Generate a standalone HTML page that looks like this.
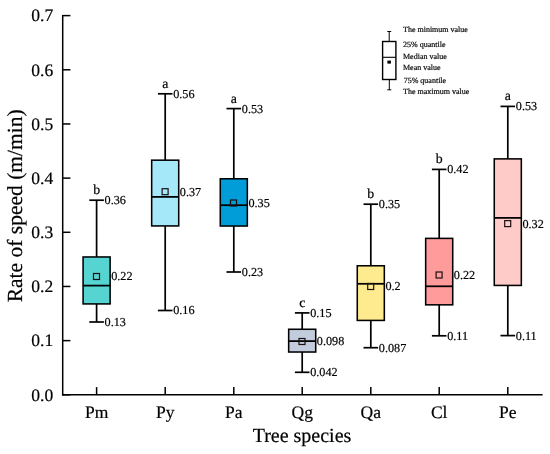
<!DOCTYPE html>
<html><head><meta charset="utf-8"><style>
html,body{margin:0;padding:0;background:#fff;}
svg{display:block;font-family:"Liberation Serif", serif;}
text{stroke:#000;stroke-width:0.2px;}
svg{text-rendering:geometricPrecision;will-change:transform;}
</style></head><body>
<svg width="550" height="454" viewBox="0 0 550 454">
<rect width="550" height="454" fill="#fff"/>
<line x1="62.7" y1="15" x2="62.7" y2="395.55" stroke="#000" stroke-width="1.5"/>
<line x1="61.95" y1="394.8" x2="542.6" y2="394.8" stroke="#000" stroke-width="1.5"/>
<line x1="62.7" y1="394.80" x2="70.4" y2="394.80" stroke="#000" stroke-width="1.5"/>
<text transform="translate(53.20,400.60) scale(1,1.0)" font-size="17.5" text-anchor="end">0.0</text>
<line x1="62.7" y1="340.63" x2="70.4" y2="340.63" stroke="#000" stroke-width="1.5"/>
<text transform="translate(53.20,346.43) scale(1,1.0)" font-size="17.5" text-anchor="end">0.1</text>
<line x1="62.7" y1="286.46" x2="70.4" y2="286.46" stroke="#000" stroke-width="1.5"/>
<text transform="translate(53.20,292.26) scale(1,1.0)" font-size="17.5" text-anchor="end">0.2</text>
<line x1="62.7" y1="232.29" x2="70.4" y2="232.29" stroke="#000" stroke-width="1.5"/>
<text transform="translate(53.20,238.09) scale(1,1.0)" font-size="17.5" text-anchor="end">0.3</text>
<line x1="62.7" y1="178.12" x2="70.4" y2="178.12" stroke="#000" stroke-width="1.5"/>
<text transform="translate(53.20,183.92) scale(1,1.0)" font-size="17.5" text-anchor="end">0.4</text>
<line x1="62.7" y1="123.95" x2="70.4" y2="123.95" stroke="#000" stroke-width="1.5"/>
<text transform="translate(53.20,129.75) scale(1,1.0)" font-size="17.5" text-anchor="end">0.5</text>
<line x1="62.7" y1="69.78" x2="70.4" y2="69.78" stroke="#000" stroke-width="1.5"/>
<text transform="translate(53.20,75.58) scale(1,1.0)" font-size="17.5" text-anchor="end">0.6</text>
<line x1="62.7" y1="15.61" x2="70.4" y2="15.61" stroke="#000" stroke-width="1.5"/>
<text transform="translate(53.20,21.41) scale(1,1.0)" font-size="17.5" text-anchor="end">0.7</text>
<line x1="96.6" y1="394.8" x2="96.6" y2="387.1" stroke="#000" stroke-width="1.5"/>
<text transform="translate(96.60,417.50) scale(1,1.0)" font-size="17.5" text-anchor="middle">Pm</text>
<line x1="165.2" y1="394.8" x2="165.2" y2="387.1" stroke="#000" stroke-width="1.5"/>
<text transform="translate(165.20,417.50) scale(1,1.0)" font-size="17.5" text-anchor="middle">Py</text>
<line x1="233.8" y1="394.8" x2="233.8" y2="387.1" stroke="#000" stroke-width="1.5"/>
<text transform="translate(233.80,417.50) scale(1,1.0)" font-size="17.5" text-anchor="middle">Pa</text>
<line x1="302.2" y1="394.8" x2="302.2" y2="387.1" stroke="#000" stroke-width="1.5"/>
<text transform="translate(302.20,417.50) scale(1,1.0)" font-size="17.5" text-anchor="middle">Qg</text>
<line x1="370.8" y1="394.8" x2="370.8" y2="387.1" stroke="#000" stroke-width="1.5"/>
<text transform="translate(370.80,417.50) scale(1,1.0)" font-size="17.5" text-anchor="middle">Qa</text>
<line x1="439.2" y1="394.8" x2="439.2" y2="387.1" stroke="#000" stroke-width="1.5"/>
<text transform="translate(439.20,417.50) scale(1,1.0)" font-size="17.5" text-anchor="middle">Cl</text>
<line x1="507.8" y1="394.8" x2="507.8" y2="387.1" stroke="#000" stroke-width="1.5"/>
<text transform="translate(507.80,417.50) scale(1,1.0)" font-size="17.5" text-anchor="middle">Pe</text>
<text transform="translate(302.00,441.80) scale(1,1.0)" font-size="20" text-anchor="middle">Tree species</text>
<text transform="translate(22,205.8) rotate(-90)" x="-96.5" y="0" font-size="21.5" textLength="193" lengthAdjust="spacing">Rate of speed (m/min)</text>
<line x1="96.6" y1="200.2" x2="96.6" y2="256.97499999999997" stroke="#000" stroke-width="1.7"/>
<line x1="96.6" y1="303.925" x2="96.6" y2="322.0" stroke="#000" stroke-width="1.7"/>
<line x1="89.3" y1="200.2" x2="103.89999999999999" y2="200.2" stroke="#000" stroke-width="1.7"/>
<line x1="89.3" y1="322.0" x2="103.89999999999999" y2="322.0" stroke="#000" stroke-width="1.7"/>
<rect x="83.08" y="256.97" width="27.05" height="46.95" fill="#55D4D2" stroke="#000" stroke-width="1.55"/>
<line x1="83.08" y1="285.6" x2="110.12" y2="285.6" stroke="#000" stroke-width="1.75"/>
<rect x="93.50" y="273.50" width="6.0" height="6.0" fill="none" stroke="#1a1010" stroke-width="1.2"/>
<text transform="translate(104.60,204.10) scale(1,1.0)" font-size="12.2">0.36</text>
<text transform="translate(111.20,280.40) scale(1,1.0)" font-size="12.2">0.22</text>
<text transform="translate(104.60,325.90) scale(1,1.0)" font-size="12.2">0.13</text>
<text transform="translate(96.60,194.10) scale(1,1.0)" font-size="13.8" text-anchor="middle">b</text>
<line x1="165.2" y1="93.8" x2="165.2" y2="160.175" stroke="#000" stroke-width="1.7"/>
<line x1="165.2" y1="225.92499999999998" x2="165.2" y2="310.5" stroke="#000" stroke-width="1.7"/>
<line x1="157.89999999999998" y1="93.8" x2="172.5" y2="93.8" stroke="#000" stroke-width="1.7"/>
<line x1="157.89999999999998" y1="310.5" x2="172.5" y2="310.5" stroke="#000" stroke-width="1.7"/>
<rect x="151.67" y="160.18" width="27.05" height="65.75" fill="#A5E8FA" stroke="#000" stroke-width="1.55"/>
<line x1="151.67" y1="196.9" x2="178.72" y2="196.9" stroke="#000" stroke-width="1.75"/>
<rect x="162.10" y="188.70" width="6.0" height="6.0" fill="none" stroke="#1a1010" stroke-width="1.2"/>
<text transform="translate(173.20,97.70) scale(1,1.0)" font-size="12.2">0.56</text>
<text transform="translate(179.80,195.60) scale(1,1.0)" font-size="12.2">0.37</text>
<text transform="translate(173.20,314.40) scale(1,1.0)" font-size="12.2">0.16</text>
<text transform="translate(165.20,87.70) scale(1,1.0)" font-size="13.8" text-anchor="middle">a</text>
<line x1="233.8" y1="108.6" x2="233.8" y2="178.775" stroke="#000" stroke-width="1.7"/>
<line x1="233.8" y1="226.025" x2="233.8" y2="272.0" stroke="#000" stroke-width="1.7"/>
<line x1="226.5" y1="108.6" x2="241.10000000000002" y2="108.6" stroke="#000" stroke-width="1.7"/>
<line x1="226.5" y1="272.0" x2="241.10000000000002" y2="272.0" stroke="#000" stroke-width="1.7"/>
<rect x="220.28" y="178.78" width="27.05" height="47.25" fill="#009DD8" stroke="#000" stroke-width="1.55"/>
<line x1="220.28" y1="205.2" x2="247.33" y2="205.2" stroke="#000" stroke-width="1.75"/>
<rect x="230.50" y="200.00" width="6.0" height="6.0" fill="none" stroke="#1a1010" stroke-width="1.2"/>
<text transform="translate(241.80,112.50) scale(1,1.0)" font-size="12.2">0.53</text>
<text transform="translate(248.40,206.90) scale(1,1.0)" font-size="12.2">0.35</text>
<text transform="translate(241.80,275.90) scale(1,1.0)" font-size="12.2">0.23</text>
<text transform="translate(233.80,102.50) scale(1,1.0)" font-size="13.8" text-anchor="middle">a</text>
<line x1="302.2" y1="312.9" x2="302.2" y2="329.275" stroke="#000" stroke-width="1.7"/>
<line x1="302.2" y1="352.02500000000003" x2="302.2" y2="372.3" stroke="#000" stroke-width="1.7"/>
<line x1="294.9" y1="312.9" x2="309.5" y2="312.9" stroke="#000" stroke-width="1.7"/>
<line x1="294.9" y1="372.3" x2="309.5" y2="372.3" stroke="#000" stroke-width="1.7"/>
<rect x="288.67" y="329.27" width="27.05" height="22.75" fill="#C3CCDD" stroke="#000" stroke-width="1.55"/>
<line x1="288.67" y1="341.1" x2="315.73" y2="341.1" stroke="#000" stroke-width="1.75"/>
<rect x="299.00" y="338.50" width="6.0" height="6.0" fill="none" stroke="#1a1010" stroke-width="1.2"/>
<text transform="translate(310.20,316.80) scale(1,1.0)" font-size="12.2">0.15</text>
<text transform="translate(316.80,345.40) scale(1,1.0)" font-size="12.2">0.098</text>
<text transform="translate(310.20,376.20) scale(1,1.0)" font-size="12.2">0.042</text>
<text transform="translate(302.20,306.80) scale(1,1.0)" font-size="13.8" text-anchor="middle">c</text>
<line x1="370.8" y1="204.2" x2="370.8" y2="265.775" stroke="#000" stroke-width="1.7"/>
<line x1="370.8" y1="320.425" x2="370.8" y2="347.7" stroke="#000" stroke-width="1.7"/>
<line x1="363.5" y1="204.2" x2="378.1" y2="204.2" stroke="#000" stroke-width="1.7"/>
<line x1="363.5" y1="347.7" x2="378.1" y2="347.7" stroke="#000" stroke-width="1.7"/>
<rect x="357.27" y="265.77" width="27.05" height="54.65" fill="#FFEB8F" stroke="#000" stroke-width="1.55"/>
<line x1="357.27" y1="283.8" x2="384.33" y2="283.8" stroke="#000" stroke-width="1.75"/>
<rect x="367.70" y="283.50" width="6.0" height="6.0" fill="none" stroke="#1a1010" stroke-width="1.2"/>
<text transform="translate(378.80,208.10) scale(1,1.0)" font-size="12.2">0.35</text>
<text transform="translate(385.40,290.40) scale(1,1.0)" font-size="12.2">0.2</text>
<text transform="translate(378.80,351.60) scale(1,1.0)" font-size="12.2">0.087</text>
<text transform="translate(370.80,198.10) scale(1,1.0)" font-size="13.8" text-anchor="middle">b</text>
<line x1="439.2" y1="169.4" x2="439.2" y2="238.375" stroke="#000" stroke-width="1.7"/>
<line x1="439.2" y1="304.82500000000005" x2="439.2" y2="335.8" stroke="#000" stroke-width="1.7"/>
<line x1="431.9" y1="169.4" x2="446.5" y2="169.4" stroke="#000" stroke-width="1.7"/>
<line x1="431.9" y1="335.8" x2="446.5" y2="335.8" stroke="#000" stroke-width="1.7"/>
<rect x="425.67" y="238.38" width="27.05" height="66.45" fill="#FF9B9B" stroke="#000" stroke-width="1.55"/>
<line x1="425.67" y1="286.3" x2="452.73" y2="286.3" stroke="#000" stroke-width="1.75"/>
<rect x="436.10" y="272.00" width="6.0" height="6.0" fill="none" stroke="#1a1010" stroke-width="1.2"/>
<text transform="translate(447.20,173.30) scale(1,1.0)" font-size="12.2">0.42</text>
<text transform="translate(453.80,278.90) scale(1,1.0)" font-size="12.2">0.22</text>
<text transform="translate(447.20,339.70) scale(1,1.0)" font-size="12.2">0.11</text>
<text transform="translate(439.20,163.30) scale(1,1.0)" font-size="13.8" text-anchor="middle">b</text>
<line x1="507.8" y1="106.4" x2="507.8" y2="158.875" stroke="#000" stroke-width="1.7"/>
<line x1="507.8" y1="285.425" x2="507.8" y2="335.6" stroke="#000" stroke-width="1.7"/>
<line x1="500.5" y1="106.4" x2="515.1" y2="106.4" stroke="#000" stroke-width="1.7"/>
<line x1="500.5" y1="335.6" x2="515.1" y2="335.6" stroke="#000" stroke-width="1.7"/>
<rect x="494.27" y="158.88" width="27.05" height="126.55" fill="#FFCBC8" stroke="#000" stroke-width="1.55"/>
<line x1="494.27" y1="217.9" x2="521.33" y2="217.9" stroke="#000" stroke-width="1.75"/>
<rect x="504.70" y="220.60" width="6.0" height="6.0" fill="none" stroke="#1a1010" stroke-width="1.2"/>
<text transform="translate(515.80,110.30) scale(1,1.0)" font-size="12.2">0.53</text>
<text transform="translate(522.40,227.50) scale(1,1.0)" font-size="12.2">0.32</text>
<text transform="translate(515.80,339.50) scale(1,1.0)" font-size="12.2">0.11</text>
<text transform="translate(507.80,100.30) scale(1,1.0)" font-size="13.8" text-anchor="middle">a</text>
<line x1="389.2" y1="31.5" x2="389.2" y2="41" stroke="#000" stroke-width="1"/>
<line x1="387.3" y1="31.5" x2="391.2" y2="31.5" stroke="#000" stroke-width="1"/>
<rect x="382.6" y="41.5" width="13.3" height="38.0" fill="none" stroke="#000" stroke-width="1.4"/>
<line x1="382.6" y1="57.3" x2="395.9" y2="57.3" stroke="#000" stroke-width="1.1"/>
<rect x="387.4" y="60.6" width="3.5" height="3.0" fill="#000"/>
<line x1="389.3" y1="79.5" x2="389.3" y2="89.8" stroke="#000" stroke-width="1"/>
<line x1="387.3" y1="89.8" x2="391.3" y2="89.8" stroke="#000" stroke-width="1"/>
<g stroke="#333" stroke-width="0.15">
<text transform="translate(403.00,31.90) scale(1,1.0)" font-size="8.0" fill="#111">The minimum value</text>
<text transform="translate(403.00,47.20) scale(1,1.0)" font-size="8.0" fill="#111">25% quantile</text>
<text transform="translate(403.00,58.80) scale(1,1.0)" font-size="8.0" fill="#111">Median value</text>
<text transform="translate(403.00,69.50) scale(1,1.0)" font-size="8.0" fill="#111">Mean value</text>
<text transform="translate(403.70,82.90) scale(1,1.0)" font-size="8.0" fill="#111">75% quantile</text>
<text transform="translate(403.00,94.00) scale(1,1.0)" font-size="8.0" fill="#111">The maximum value</text>
</g>
</svg>
</body></html>
